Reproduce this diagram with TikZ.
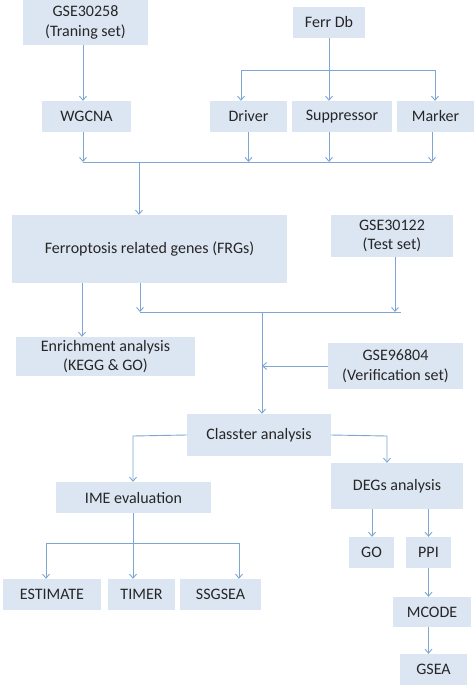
\documentclass[tikz,border=0pt]{standalone}
\usepackage{fontspec}
\setmainfont{Carlito}
\usetikzlibrary{arrows.meta}
\definecolor{boxfill}{HTML}{DCE6F2}
\definecolor{linec}{HTML}{7EA6D2}
\begin{document}
\begin{tikzpicture}[x=1pt,y=-1pt,
  box/.style={fill=boxfill,draw=none,inner sep=0pt,align=center,font=\fontsize{16}{19.5}\selectfont,text=black!85},
  conn/.style={draw=linec,line width=0.9pt},
  arr/.style={conn,-{Straight Barb[length=4pt,width=7pt,line width=0.9pt]}}]
\useasboundingbox (0,0) rectangle (474,687);
% boxes
\node[box,minimum width=125,minimum height=45] (gse1) at (85.5,22.5) {GSE30258\\(Traning set)};
\node[box,minimum width=72,minimum height=31] (ferr) at (329,22.5) {Ferr Db};
\node[box,minimum width=89,minimum height=31] (wgcna) at (86.5,116.5) {WGCNA};
\node[box,minimum width=77,minimum height=31] (driver) at (248.5,116.5) {Driver};
\node[box,minimum width=100,minimum height=31] (supp) at (342,116.5) {Suppressor};
\node[box,minimum width=77,minimum height=31] (marker) at (435.5,116.5) {Marker};
\node[box,minimum width=275,minimum height=68] (frg) at (149.5,249) {Ferroptosis related genes (FRGs)};
\node[box,minimum width=122,minimum height=42] (gse2) at (392,236) {GSE30122\\(Test set)};
\node[box,minimum width=179,minimum height=39] (enrich) at (105.5,356.5) {Enrichment analysis\\(KEGG \& GO)};
\node[box,minimum width=135,minimum height=46] (gse3) at (395.5,366) {GSE96804\\(Verification set)};
\node[box,minimum width=144,minimum height=42] (clas) at (259,435) {Classter analysis};
\node[box,minimum width=155,minimum height=31] (ime) at (133.5,497.5) {IME evaluation};
\node[box,minimum width=132,minimum height=46] (degs) at (397,486) {DEGs analysis};
\node[box,minimum width=98,minimum height=31] (est) at (52,594.5) {ESTIMATE};
\node[box,minimum width=67,minimum height=31] (timer) at (141.5,594.5) {TIMER};
\node[box,minimum width=81,minimum height=31] (ssg) at (220.5,594.5) {SSGSEA};
\node[box,minimum width=45,minimum height=31] (go) at (371.5,552.5) {GO};
\node[box,minimum width=45,minimum height=31] (ppi) at (428.5,552.5) {PPI};
\node[box,minimum width=78,minimum height=30] (mcode) at (432,612) {MCODE};
\node[box,minimum width=67,minimum height=31] (gsea) at (433.5,669.5) {GSEA};
% junction coordinates
\coordinate (b1L) at (241,70);
\coordinate (b1R) at (435,70);
\coordinate (b2L) at (83,162);
\coordinate (b2R) at (432,162);
\coordinate (b2M) at (139,162);
\coordinate (b3L) at (140,312);
\coordinate (b3R) at (395,312);
\coordinate (b3M) at (262,312);
\coordinate (clL) at (133,436);
\coordinate (clR) at (387,436);
\coordinate (b4L) at (46,543);
\coordinate (b4R) at (239,543);
\coordinate (b4M) at (133,543);
% top connectors
\draw[arr] (gse1.south -| b2L) -- (b2L |- wgcna.north);
\draw[arr] (ferr.south) -- (ferr.south |- supp.north);
\draw[conn] (b1L) -- (b1R);
\draw[arr] (b1L) -- (b1L |- driver.north);
\draw[arr] (b1R) -- (b1R |- marker.north);
\draw[arr] (b2L |- wgcna.south) -- (b2L);
\draw[arr] (driver.south) -- (driver.south |- b2L);
\draw[arr] (ferr.south |- supp.south) -- (ferr.south |- b2L);
\draw[arr] (b2R |- marker.south) -- (b2R);
\draw[conn] (b2L) -- (b2R);
\draw[arr] (b2M) -- (b2M |- frg.north);
% middle
\draw[arr] (b3L |- frg.south) -- (b3L);
\draw[arr] (b3R |- gse2.south) -- (b3R);
\draw[conn] (b3L) -- (401,312);
\draw[arr] (frg.south -| 82,0) -- (82,0 |- enrich.north);
\draw[arr] (b3M) -- (b3M |- clas.north);
\draw[arr] (gse3.west) -- (gse3.west -| b3M);
% classter
\draw[arr] (clas.west) -- (clL) -- (clL |- ime.north);
\draw[arr] (clas.east) -- (clR) -- (clR |- degs.north);
% IME
\draw[arr] (b4M |- ime.south) -- (b4M |- timer.north);
\draw[conn] (b4L) -- (b4R);
\draw[arr] (b4L) -- (b4L |- est.north);
\draw[arr] (b4R) -- (b4R |- ssg.north);
% DEGs
\draw[arr] (degs.south -| 372,0) -- (372,0 |- go.north);
\draw[arr] (degs.south -| ppi.north) -- (ppi.north);
\draw[arr] (ppi.south) -- (ppi.south |- mcode.north);
\draw[arr] (ppi.south |- mcode.south) -- (ppi.south |- gsea.north);
\end{tikzpicture}
\end{document}
